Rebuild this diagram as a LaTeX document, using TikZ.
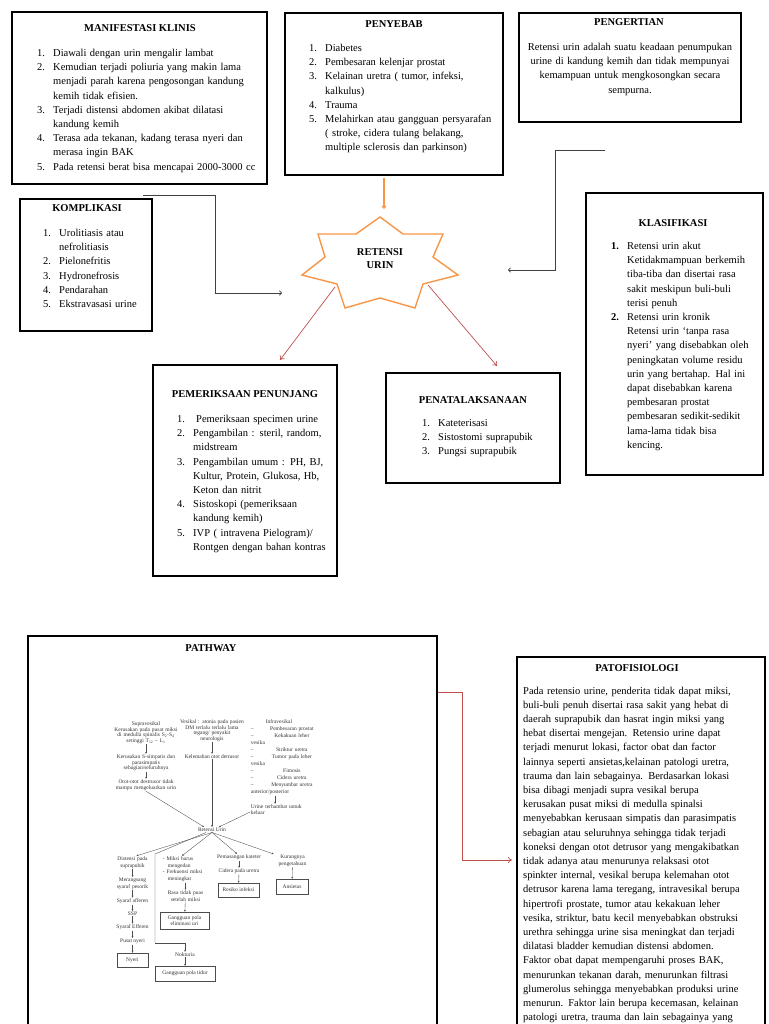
\documentclass[tikz,border=0pt]{standalone}
\usepackage{fontspec}
\setmainfont{Liberation Serif}
\usetikzlibrary{arrows.meta,fit}

\definecolor{starorange}{HTML}{F79646}
\definecolor{linkred}{HTML}{C0504D}
\definecolor{linkgray}{HTML}{404040}

% number column, justified line, dash item of the pathway
\newcommand{\nr}[1]{\makebox[16pt][l]{#1}}
\newcommand{\jl}[2]{\makebox[#1pt][s]{#2}}
\newcommand{\pd}[1]{\makebox[8pt][l]{--}\makebox[66pt][c]{#1}}

\tikzset{
  box/.style={draw, line width=1.5pt, inner sep=0pt},
  boxtitle/.style={font=\fontsize{10.5}{14.2}\selectfont\bfseries, anchor=base, inner sep=0pt},
  listtext/.style={font=\fontsize{10.5}{14.2}\selectfont, anchor=base west, inner sep=0pt, align=left, text width=#1},
  centertext/.style={font=\fontsize{10.5}{14.2}\selectfont, anchor=base, inner sep=0pt, align=center, text width=#1},
  graylink/.style={draw=linkgray, line width=0.7pt, -{To[length=3pt,width=5pt]}},
  redlink/.style={draw=linkred, line width=0.7pt, -{To[length=4pt,width=6pt]}},
  orangelink/.style={draw=starorange, line width=2.6pt, -{Triangle[length=3pt,width=5pt]}},
  ptext/.style={font=\fontsize{5.5}{5.6}\selectfont, text=black!80, anchor=base, inner sep=0.7pt, align=center},
  pbox/.style={draw=black!70, line width=0.5pt, inner sep=0pt, font=\fontsize{5.5}{6.2}\selectfont, text=black!80, align=center},
  plink/.style={draw=black!70, line width=0.35pt, -{Stealth[length=2pt,width=1.8pt]}}
}

\begin{document}
\begin{tikzpicture}[x=1pt,y=-1pt]
  \fill[white] (0,0) rectangle (768,1024);
  \useasboundingbox (0,0) rectangle (768,1024);

  % frames
  \begin{scope}[every node/.style={box}]
    \node[fit={(12,12) (267,184)}] (manifestasi) {};
    \node[fit={(285,13) (503,175)}] (penyebab) {};
    \node[fit={(519,13) (741,122)}] (pengertian) {};
    \node[fit={(20,199) (152,331)}] (komplikasi) {};
    \node[fit={(586,193) (763,475)}] (klasifikasi) {};
    \node[fit={(153,365) (337,576)}] (pemeriksaan) {};
    \node[fit={(386,373) (560,483)}] (penatalaksanaan) {};
    \node[fit={(28,636) (437,1034)}, line width=1.2pt] (pathway) {};
    \node[fit={(517,657) (765,1034)}] (patofisiologi) {};
  \end{scope}

  \begin{scope}[every node/.style={boxtitle}]
    \node (manifestasi-title) at (140,31.5) {MANIFESTASI KLINIS};
    \node (penyebab-title) at (394,28) {PENYEBAB};
    \node (pengertian-title) at (629,26) {PENGERTIAN};
    \node (komplikasi-title) at (87,212) {KOMPLIKASI};
    \node (klasifikasi-title) at (673,226) {KLASIFIKASI};
    \node (pemeriksaan-title) at (245,397) {PEMERIKSAAN PENUNJANG};
    \node (penatalaksanaan-title) at (473,403) {PENATALAKSANAAN};
    \node (pathway-title) at (211,651) {PATHWAY};
    \node (patofisiologi-title) at (637,671) {PATOFISIOLOGI};
  \end{scope}

  \node[listtext=228pt] (manifestasi-list) at (37,56.5) {%
    \nr{1.}Diawali dengan urin mengalir lambat\\
    \nr{2.}Kemudian terjadi poliuria yang makin lama\\
    \nr{}menjadi parah karena pengosongan kandung\\
    \nr{}kemih tidak efisien.\\
    \nr{3.}Terjadi distensi abdomen akibat dilatasi\\
    \nr{}kandung kemih\\
    \nr{4.}Terasa ada tekanan, kadang terasa nyeri dan\\
    \nr{}merasa ingin BAK\\
    \nr{5.}Pada retensi berat bisa mencapai 2000-3000 cc};

  \node[listtext=190pt] (penyebab-list) at (309,51.5) {%
    \nr{1.}Diabetes\\
    \nr{2.}Pembesaran kelenjar prostat\\
    \nr{3.}\jl{172}{Kelainan uretra ( tumor, infeksi,}\\
    \nr{}kalkulus)\\
    \nr{4.}Trauma\\
    \nr{5.}\jl{172}{Melahirkan atau gangguan persyarafan}\\
    \nr{}\jl{172}{( stroke, cidera tulang belakang,}\\
    \nr{}multiple sclerosis dan parkinson)};

  \node[centertext=218pt] (pengertian-text) at (630,50.5) {%
    Retensi urin adalah suatu keadaan penumpukan\\
    urine di kandung kemih dan tidak mempunyai\\
    kemampuan untuk mengkosongkan secara\\
    sempurna.};

  \node[listtext=128pt] (komplikasi-list) at (43,236.5) {%
    \nr{1.}\jl{87}{Urolitiasis atau}\\
    \nr{}nefrolitiasis\\
    \nr{2.}Pielonefritis\\
    \nr{3.}Hydronefrosis\\
    \nr{4.}Pendarahan\\
    \nr{5.}Ekstravasasi urine};

  \node[listtext=150pt] (klasifikasi-list) at (611,249.5) {%
    \nr{\textbf{1.}}Retensi urin akut\\
    \nr{}Ketidakmampuan berkemih\\
    \nr{}tiba-tiba dan disertai rasa\\
    \nr{}sakit meskipun buli-buli\\
    \nr{}terisi penuh\\
    \nr{\textbf{2.}}Retensi urin kronik\\
    \nr{}Retensi urin ‘tanpa rasa\\
    \nr{}nyeri’ yang disebabkan oleh\\
    \nr{}peningkatan volume residu\\
    \nr{}urin yang bertahap. Hal ini\\
    \nr{}dapat disebabkan karena\\
    \nr{}pembesaran prostat\\
    \nr{}pembesaran sedikit-sedikit\\
    \nr{}lama-lama tidak bisa\\
    \nr{}kencing.};

  \node[listtext=180pt] (pemeriksaan-list) at (177,422.5) {%
    \nr{1.}\hspace{3pt}Pemeriksaan specimen urine\\
    \nr{2.}\jl{126}{Pengambilan : steril, random,}\\
    \nr{}midstream\\
    \nr{3.}\jl{126}{Pengambilan umum : PH, BJ,}\\
    \nr{}\jl{126}{Kultur, Protein, Glukosa, Hb,}\\
    \nr{}Keton dan nitrit\\
    \nr{4.}Sistoskopi (pemeriksaan\\
    \nr{}kandung kemih)\\
    \nr{5.}IVP ( intravena Pielogram)/\\
    \nr{}Rontgen dengan bahan kontras};

  \node[listtext=130pt] (penatalaksanaan-list) at (422,426.5) {%
    \nr{1.}Kateterisasi\\
    \nr{2.}Sistostomi suprapubik\\
    \nr{3.}Pungsi suprapubik};

  \node[listtext=240pt] (patofisiologi-text) at (523,694) {%
    \jl{234}{Pada retensio urine, penderita tidak dapat miksi,}\\
    \jl{234}{buli-buli penuh disertai rasa sakit yang hebat di}\\
    \jl{234}{daerah suprapubik dan hasrat ingin miksi yang}\\
    \jl{234}{hebat disertai mengejan. Retensio urine dapat}\\
    \jl{234}{terjadi menurut lokasi, factor obat dan factor}\\
    \jl{234}{lainnya seperti ansietas,kelainan patologi uretra,}\\
    \jl{234}{trauma dan lain sebagainya. Berdasarkan lokasi}\\
    \jl{234}{bisa dibagi menjadi supra vesikal berupa}\\
    \jl{234}{kerusakan pusat miksi di medulla spinalsi}\\
    \jl{234}{menyebabkan kerusaan simpatis dan parasimpatis}\\
    \jl{234}{sebagian atau seluruhnya sehingga tidak terjadi}\\
    \jl{234}{koneksi dengan otot detrusor yang mengakibatkan}\\
    \jl{234}{tidak adanya atau menurunya relaksasi otot}\\
    \jl{234}{spinkter internal, vesikal berupa kelemahan otot}\\
    \jl{234}{detrusor karena lama teregang, intravesikal berupa}\\
    \jl{234}{hipertrofi prostate, tumor atau kekakuan leher}\\
    \jl{234}{vesika, striktur, batu kecil menyebabkan obstruksi}\\
    \jl{234}{urethra sehingga urine sisa meningkat dan terjadi}\\
    \jl{234}{dilatasi bladder kemudian distensi abdomen.}\\
    \jl{234}{Faktor obat dapat mempengaruhi proses BAK,}\\
    \jl{234}{menurunkan tekanan darah, menurunkan filtrasi}\\
    \jl{234}{glumerolus sehingga menyebabkan produksi urine}\\
    \jl{234}{menurun. Faktor lain berupa kecemasan, kelainan}\\
    \jl{234}{patologi uretra, trauma dan lain sebagainya yang}};

  % links round the star
  \coordinate (komplikasi-out) at (143,195);
  \coordinate (retensi-in-w) at (282,293);
  \coordinate (klasifikasi-out) at (605,150);
  \coordinate (retensi-in-e) at (508,270);
  \coordinate (penyebab-out) at (384,178);
  \coordinate (retensi-top) at (384,209);
  \coordinate (retensi-sw) at (335,287);
  \coordinate (retensi-se) at (428,285);
  \coordinate (pemeriksaan-in) at (280,360);
  \coordinate (penatalaksanaan-in) at (497,366);
  \coordinate (pathway-out) at (438,692);
  \coordinate (patofisiologi-in) at (512,860);

  \draw[graylink] (komplikasi-out) -- ++(72,0) |- (retensi-in-w);
  \draw[graylink] (klasifikasi-out) -- ++(-50,0) |- (retensi-in-e);
  \draw[orangelink] (penyebab-out) -- (retensi-top);
  \draw[redlink] (retensi-sw) -- (pemeriksaan-in);
  \draw[redlink] (retensi-se) -- (penatalaksanaan-in);
  \draw[redlink] (pathway-out) -- ++(24,0) |- (patofisiologi-in);

  % star
  \draw[starorange, line width=1.4pt, fill=white]
    (380,217) -- (403,234) -- (443,234) -- (433,257) -- (458,275) -- (423,284)
    -- (415,308) -- (380,298) -- (345,308) -- (337,284) -- (302,275) -- (325,257)
    -- (318,234) -- (356,234) -- cycle;
  \node[font=\fontsize{10.5}{13}\selectfont\bfseries, align=center] (retensi) at (380,258.5) {RETENSI\\URIN};

  % pathway picture
  \begin{scope}[every node/.style={ptext}]
    \node[text width=78pt] (supra) at (146,725.5) {Supravesikal\\Kerusakan pada pusat miksi\\di medulla spinalis S\textsubscript{2}-S\textsubscript{4}\\setinggi T\textsubscript{12} -- L\textsubscript{1}};
    \node[text width=78pt] (simpatis) at (146,758.5) {Kerusakan S-simpatis dan\\parasimpatis\\sebagian/seluruhnya};
    \node[text width=78pt] (otot) at (146,783.5) {Otot-otot destrusor tidak\\mampu mengeluarkan urin};
    \node[text width=78pt] (vesikal) at (212,723.5) {Vesikal : atonia pada pasien\\DM terlalu terlalu lama\\tegang/ penyakit\\neurologis};
    \node (lemah) at (212,758.5) {Kelemahan otot detrusor};
    \node[anchor=base west, align=left, text width=75pt, font=\fontsize{5.5}{7}\selectfont] (infra) at (250,723.5) {%
      \makebox[56pt][c]{Infravesikal}\\
      \pd{Pembesaran prostat}\\
      \pd{Kekakuan leher}\\
      vesika\\
      \pd{Striktur uretra}\\
      \pd{Tumor pada leher}\\
      vesika\\
      \pd{Fimosis}\\
      \pd{Cidera uretra}\\
      \pd{Menyumbat uretra}\\
      anterior/posterior};
    \node[anchor=base west, align=left, text width=62pt] (urine) at (250,808.5) {Urine terhambat untuk\\keluar};
    \node (retensiP) at (212,831.5) {Retensi Urin};

    \node[text width=42pt, font=\fontsize{5.5}{6.7}\selectfont] (distensi) at (132.5,860.5) {Distensi pada\\suprapubik};
    \node[text width=42pt, font=\fontsize{5.5}{6.7}\selectfont] (merangsang) at (132.5,881.5) {Merangsang\\syaraf pesorik};
    \node (afferen) at (132.5,902.5) {Syaraf afferen};
    \node (ssp) at (132.5,915.5) {SSP};
    \node (efferen) at (132.5,928.5) {Syaraf Efferen};
    \node (pusat) at (132.5,942.5) {Pusat nyeri};

    \node[anchor=base west, align=left, text width=50pt, font=\fontsize{5.5}{6.7}\selectfont] (miksi) at (162,860.5) {- Miksi harus\\\hspace*{5pt}mengedan\\- Frekuensi miksi\\\hspace*{5pt}meningkat};
    \node[text width=46pt, font=\fontsize{5.5}{7}\selectfont] (rasa) at (185.5,894.5) {Rasa tidak puas\\setelah miksi};
    \node (nokturia) at (185,956.5) {Nokturia};

    \node (kateter) at (239,858.5) {Pemasangan kateter};
    \node (cidera) at (239,872.5) {Cidera pada uretra};
    \node[text width=42pt, font=\fontsize{5.5}{6.7}\selectfont] (kurang) at (292.5,858.5) {Kurangnya\\pengetahuan};
  \end{scope}

  \begin{scope}[every node/.style={pbox}]
    \node[minimum width=31pt, minimum height=14pt] (nyeri) at (132.5,960) {Nyeri};
    \node[minimum width=49pt, minimum height=17pt] (eliminasi) at (184.5,920.5) {Gangguan pola\\eliminasi uri};
    \node[minimum width=60pt, minimum height=15pt] (tidur) at (185,973.5) {Gangguan pola tidur};
    \node[minimum width=41pt, minimum height=14pt] (infeksi) at (238.5,890) {Resiko infeksi};
    \node[minimum width=32pt, minimum height=15pt] (ansietas) at (292,886.5) {Ansietas};
  \end{scope}

  \coordinate (tidur-bend-a) at (155,854);
  \coordinate (tidur-bend-b) at (155,943);

  \begin{scope}[every edge/.style={plink}]
    \path (supra) edge (simpatis);
    \path (simpatis) edge (otot);
    \path (vesikal) edge (lemah);
    \path ([xshift=25pt]infra.south west) edge ([xshift=25pt]urine.north west);
    \path (otot.south) edge ([xshift=-8pt]retensiP.north);
    \path (lemah.south) edge (retensiP.north);
    \path ([yshift=3pt]urine.south west) edge ([xshift=7pt]retensiP.north);

    \path (retensiP.south) edge ([xshift=4pt]distensi.north);
    \path (retensiP.south) edge ([xshift=20pt]miksi.north west);
    \path (retensiP.south) edge ([xshift=-2pt]kateter.north);
    \path (retensiP.south) edge ([xshift=3pt]kurang.north west);

    \path (distensi) edge (merangsang);
    \path (merangsang) edge (afferen);
    \path (afferen) edge (ssp);
    \path (ssp) edge (efferen);
    \path (efferen) edge (pusat);
    \path (pusat) edge (nyeri);
    \path (miksi.south -| rasa.north) edge (rasa.north);
    \path (rasa) edge (eliminasi);
    \path (nokturia) edge (tidur);
    \path (kateter) edge (cidera);
    \path (cidera) edge (infeksi);
    \path (kurang) edge (ansietas);
  \end{scope}
  \draw[black!70, line width=0.35pt] ([xshift=-6pt]retensiP.south) -- (tidur-bend-a) -- (tidur-bend-b);
  \draw[plink] (tidur-bend-b) -| (nokturia.north);

\end{tikzpicture}
\end{document}
